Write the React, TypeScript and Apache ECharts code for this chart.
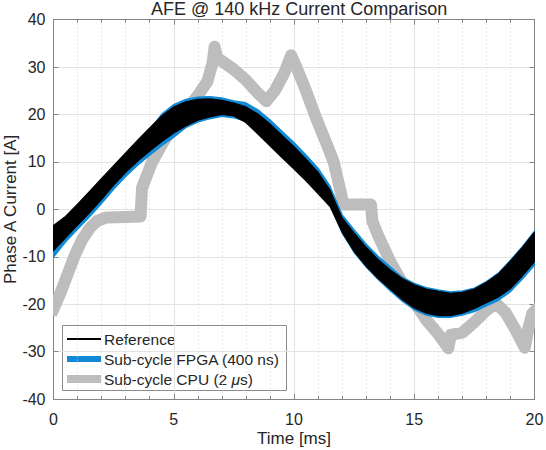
import React, { useEffect, useRef } from "react";
import * as echarts from "echarts";

// Time samples for the reference / FPGA envelopes [ms]
const timeMs = [
  0, 0.5, 1, 1.5, 2, 2.5, 3, 3.5, 4, 4.5, 5, 5.5, 6, 6.5, 7, 7.5, 8, 8.5, 9, 9.5,
  10, 10.5, 11, 11.5, 12, 12.5, 13, 13.5, 14, 14.5, 15, 15.5, 16, 16.5, 17, 17.5,
  18, 18.5, 19, 19.5, 20,
];

// Reference current ripple envelope [A]
const refUpper = [
  -3.4, -1.5, 1.1, 3.8, 6.5, 9.2, 11.9, 14.6, 17.2, 19.7, 21.6, 22.7, 23.2, 23.3,
  23.0, 22.4, 21.6, 20.1, 18.0, 15.6, 13.2, 10.6, 7.8, 4.0, -1.8, -5.0, -8.0,
  -10.6, -12.8, -14.6, -15.9, -16.8, -17.3, -17.7, -17.5, -16.8, -15.4, -13.6,
  -10.9, -8.0, -4.8,
];
const refLower = [
  -8.7, -6.0, -3.3, -0.7, 2.1, 5.1, 7.8, 10.2, 12.3, 14.3, 16.1, 17.6, 18.8, 19.5,
  20.0, 19.7, 18.3, 15.9, 13.4, 10.9, 8.5, 6.0, 3.3, 0.6, -4.8, -8.9, -12.0,
  -14.6, -16.8, -19.0, -20.8, -21.9, -22.4, -22.4, -21.9, -20.9, -19.7, -18.5,
  -16.7, -14.0, -11.1,
];

// Sub-cycle FPGA (400 ns) current ripple envelope [A]
const fpgaUpper = [
  -4.0, -2.0, 0.6, 3.3, 6.0, 8.7, 11.4, 14.1, 16.8, 20.1, 22.1, 23.2, 23.7, 23.8,
  23.5, 22.9, 22.5, 21.0, 18.9, 16.5, 14.1, 11.5, 8.7, 4.9, -1.1, -4.3, -7.3,
  -9.9, -12.1, -14.3, -15.6, -16.5, -17.0, -17.4, -17.2, -16.6, -15.2, -13.4,
  -10.7, -7.8, -4.6,
];
const fpgaLower = [
  -10.1, -6.9, -4.2, -1.6, 1.2, 4.2, 6.9, 9.3, 11.4, 13.4, 15.2, 17.2, 18.4, 19.1,
  19.6, 19.3, 18.6, 16.2, 13.7, 11.2, 8.8, 6.3, 3.6, 0.9, -5.0, -9.1, -12.2,
  -14.8, -17.2, -19.4, -21.2, -22.3, -22.8, -22.8, -22.3, -21.6, -20.4, -19.2,
  -17.4, -14.7, -11.8,
];

// Sub-cycle CPU (2 us) current, centre of the ripple band
const cpuTime = [
  0, 0.3, 0.6, 0.9, 1.2, 1.5, 1.8, 2.2, 3.0, 3.62, 3.68, 4.1, 4.6, 5.0, 5.5, 6.0,
  6.4, 6.62, 6.7, 6.8, 7.0, 7.5, 8.0, 8.5, 8.85, 9.2, 9.6, 9.88, 10.1, 10.5, 10.9,
  11.3, 11.65, 11.95, 12.05, 13.2, 13.26, 13.5, 14.0, 14.5, 15.0, 15.5, 16.0,
  16.42, 16.52, 17.0, 17.5, 18.0, 18.4, 18.8, 19.2, 19.6, 19.75, 19.9, 20.0,
];
const cpuCurrent = [
  -21.0, -17.5, -13.5, -9.5, -6.3, -4.0, -2.5, -1.7, -1.6, -1.5, 4.5, 10.0, 14.5,
  17.5, 20.8, 24.0, 27.0, 31.0, 34.3, 32.0, 31.3, 29.5, 27.3, 24.5, 22.8, 25.0,
  28.8, 32.5, 30.0, 25.0, 19.5, 14.5, 10.0, 3.5, 1.0, 1.0, -2.5, -5.5, -11.0,
  -15.5, -19.5, -23.3, -26.3, -29.3, -26.5, -26.0, -23.8, -21.3, -19.8, -21.8,
  -25.3, -29.2, -25.0, -22.0, -21.5,
];

const seriesNames = ["Reference", "Sub-cycle FPGA (400 ns)", "Sub-cycle CPU (2 μs)"];
const xTickLabels = ["0", "5", "10", "15", "20"];

const FONT = "'Liberation Sans', Arial, Helvetica, sans-serif";
const TXT = "#262626";
const AX = "#858585";
const BLUE = "#1189d6";
const GRAY = "#bdbdbd";

function bandSeries(name: string, upper: number[], lower: number[], color: string, z: number) {
  return {
    type: "custom",
    name,
    z,
    clip: true,
    silent: true,
    coordinateSystem: "cartesian2d",
    data: [[0, 0]],
    encode: { x: 0, y: 1 },
    renderItem: (_params: any, api: any) => {
      const pts: number[][] = [];
      for (let i = 0; i < timeMs.length; i++) pts.push(api.coord([timeMs[i], upper[i]]));
      for (let i = timeMs.length - 1; i >= 0; i--) pts.push(api.coord([timeMs[i], lower[i]]));
      return {
        type: "polygon",
        shape: { points: pts },
        style: { fill: color, stroke: color, lineWidth: 1.2, lineJoin: "round" },
      };
    },
  };
}

function thickLineSeries(name: string, xs: number[], ys: number[], color: string, width: number, z: number) {
  return {
    type: "custom",
    name,
    z,
    clip: true,
    silent: true,
    coordinateSystem: "cartesian2d",
    data: [[0, 0]],
    encode: { x: 0, y: 1 },
    renderItem: (_params: any, api: any) => {
      const pts: number[][] = xs.map((t, i) => api.coord([t, ys[i]]));
      return {
        type: "polyline",
        shape: { points: pts },
        style: { fill: null, stroke: color, lineWidth: width, lineJoin: "round", lineCap: "square" },
      };
    },
  };
}

export default function App() {
  const ref = useRef<HTMLDivElement>(null);

  useEffect(() => {
    if (!ref.current) return;
    const chart = echarts.init(ref.current, undefined, { renderer: "svg" });
    const commonX = {
      type: "value",
      min: 0,
      max: 20,
      interval: 5,
    };
    const commonY = {
      type: "value",
      min: -40,
      max: 40,
      interval: 10,
    };
    const option: any = {
      animation: false,
      backgroundColor: "#ffffff",
      title: {
        text: "AFE @ 140 kHz Current Comparison",
        left: 146,
        top: -5,
        textStyle: { fontFamily: FONT, fontSize: 18, fontWeight: "normal", color: TXT, lineHeight: 18 },
      },
      grid: {
        left: 53.5,
        right: 11.5,
        top: 19.7,
        bottom: 51,
        containLabel: false,
        outerBoundsMode: "none",
      },
      xAxis: [
        {
          ...commonX,
          position: "bottom",
          name: "Time [ms]",
          nameLocation: "middle",
          nameGap: 31,
          nameMoveOverlap: false,
          nameTextStyle: { fontFamily: FONT, fontSize: 17, color: TXT },
          axisLine: { show: true, onZero: false, lineStyle: { color: AX, width: 1 } },
          axisTick: { show: true, inside: true, length: 5, lineStyle: { color: AX } },
          minorTick: { show: true, splitNumber: 5, length: 3, lineStyle: { color: AX } },
          axisLabel: {
            fontFamily: FONT,
            fontSize: 16,
            color: TXT,
            margin: 12,
            formatter: (v: number) => xTickLabels[Math.round(v / 5)] ?? String(v),
          },
          splitLine: { show: true, lineStyle: { color: "#e3e3e3", width: 1 } },
          minorSplitLine: { show: true, lineStyle: { color: "#d6d6d6", width: 1, type: [1, 3] } },
        },
        {
          ...commonX,
          position: "top",
          axisLine: { show: true, onZero: false, lineStyle: { color: AX, width: 1 } },
          axisTick: { show: true, inside: true, length: 5, lineStyle: { color: AX } },
          minorTick: { show: true, splitNumber: 5, length: 3, lineStyle: { color: AX } },
          axisLabel: { show: false },
          splitLine: { show: false },
        },
      ],
      yAxis: [
        {
          ...commonY,
          position: "left",
          name: "Phase A Current [A]",
          nameLocation: "middle",
          nameGap: 35,
          nameMoveOverlap: false,
          nameRotate: 90,
          nameTextStyle: { fontFamily: FONT, fontSize: 17, color: TXT },
          axisLine: { show: true, onZero: false, lineStyle: { color: AX, width: 1 } },
          axisTick: { show: true, inside: true, length: 5, lineStyle: { color: AX } },
          axisLabel: { fontFamily: FONT, fontSize: 16, color: TXT, margin: 8 },
          splitLine: { show: true, lineStyle: { color: "#e3e3e3", width: 1 } },
        },
        {
          ...commonY,
          position: "right",
          axisLine: { show: true, onZero: false, lineStyle: { color: AX, width: 1 } },
          axisTick: { show: true, inside: true, length: 5, lineStyle: { color: AX } },
          axisLabel: { show: false },
          splitLine: { show: false },
        },
      ],
      series: [
        thickLineSeries(seriesNames[2], cpuTime, cpuCurrent, GRAY, 12, 2),
        bandSeries(seriesNames[1], fpgaUpper, fpgaLower, BLUE, 3),
        bandSeries(seriesNames[0], refUpper, refLower, "#000000", 4),
      ],
      graphic: [
        {
          type: "group",
          z: 100,
          children: [
            {
              type: "rect",
              shape: { x: 62.5, y: 325.5, width: 224, height: 65 },
              style: { fill: "#ffffff", stroke: "#8c8c8c", lineWidth: 1 },
            },
            {
              type: "line",
              shape: { x1: 67, y1: 339, x2: 101, y2: 339 },
              style: { stroke: "#000000", lineWidth: 2 },
            },
            {
              type: "line",
              shape: { x1: 67, y1: 359, x2: 101, y2: 359 },
              style: { stroke: BLUE, lineWidth: 6 },
            },
            {
              type: "line",
              shape: { x1: 67, y1: 379, x2: 101, y2: 379 },
              style: { stroke: GRAY, lineWidth: 8 },
            },
            {
              type: "text",
              x: 104,
              y: 339,
              style: {
                text: seriesNames[0],
                fontFamily: FONT,
                fontSize: 15.5,
                fill: TXT,
                verticalAlign: "middle",
              },
            },
            {
              type: "text",
              x: 104,
              y: 359,
              style: {
                text: seriesNames[1],
                fontFamily: FONT,
                fontSize: 15.5,
                fill: TXT,
                verticalAlign: "middle",
              },
            },
            {
              type: "text",
              x: 104,
              y: 379,
              style: {
                text: "{n|Sub-cycle CPU (2 }{i|μ}{n|s)}",
                verticalAlign: "middle",
                rich: {
                  n: { fontFamily: FONT, fontSize: 15.5, fill: TXT, color: TXT },
                  i: { fontFamily: FONT, fontSize: 15.5, fontStyle: "italic", fill: TXT, color: TXT },
                },
              },
            },
          ],
        },
      ],
    };
    chart.setOption(option);
    return () => chart.dispose();
  }, []);

  return (
    <div
      ref={ref}
      style={{ position: "fixed", left: 0, top: 0, width: 546, height: 450, background: "#fff" }}
    />
  );
}
